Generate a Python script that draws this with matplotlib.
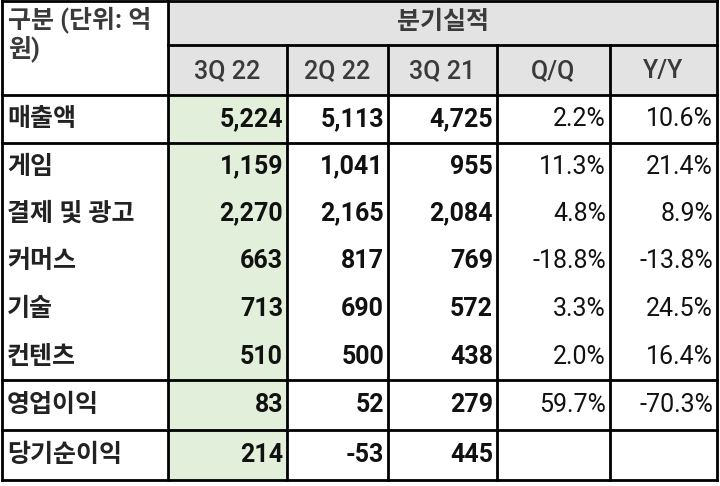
import matplotlib
matplotlib.use("Agg")
import matplotlib.pyplot as plt
from matplotlib.patches import Rectangle

plt.rcParams['font.family'] = ['Roboto', 'Noto Sans CJK KR', 'DejaVu Sans']

title = "분기실적"
corner = "구분 (단위: 억\n원)"
columns = ["3Q 22", "2Q 22", "3Q 21", "Q/Q", "Y/Y"]
rows = ["매출액", "게임", "결제 및 광고", "커머스", "기술", "컨텐츠", "영업이익", "당기순이익"]
q3_22 = ["5,224", "1,159", "2,270", "663", "713", "510", "83", "214"]
q2_22 = ["5,113", "1,041", "2,165", "817", "690", "500", "52", "-53"]
q3_21 = ["4,725", "955", "2,084", "769", "572", "438", "279", "445"]
qoq = ["2.2%", "11.3%", "4.8%", "-18.8%", "3.3%", "2.0%", "59.7%", ""]
yoy = ["10.6%", "21.4%", "8.9%", "-13.8%", "24.5%", "16.4%", "-70.3%", ""]

W, H = 720, 486
fig = plt.figure(figsize=(W/100, H/100), dpi=100)
ax = fig.add_axes([0, 0, 1, 1])
ax.set_xlim(0, W); ax.set_ylim(H, 0); ax.axis('off')

xs = [2, 168, 287, 388, 497, 610, 717]
row_y = [95, 143, 190, 237, 285, 333, 380, 430, 480]
hy = [1, 45, 95]

ax.add_patch(Rectangle((xs[1], hy[0]), xs[-1]-xs[1], hy[2]-hy[0], color='#e3e3e3', zorder=0))
ax.add_patch(Rectangle((xs[1], row_y[0]), xs[2]-xs[1], row_y[-1]-row_y[0], color='#e2efda', zorder=0))

lw = 2
k = 'black'
for i, x in enumerate(xs):
    top = hy[0] if i in (0, 1, len(xs)-1) else hy[1]
    ax.plot([x, x], [top, row_y[-1]], color=k, lw=lw)
ax.plot([xs[0], xs[-1]], [hy[0], hy[0]], color=k, lw=lw)
ax.plot([xs[1], xs[-1]], [hy[1], hy[1]], color=k, lw=lw)
for y in [95, 143, 380, 430, 480]:
    ax.plot([xs[0], xs[-1]], [y, y], color=k, lw=lw)

fs = 18
hdr = '#3a3a3a'
ax.text(8, 6, corner, fontsize=fs, fontweight='bold', color=hdr, va='top', ha='left', linespacing=1.1)
ax.text((xs[1]+xs[-1])/2, 22, title, fontsize=fs, fontweight='bold', color=hdr, ha='center', va='center')
for i, c in enumerate(columns):
    ax.text((xs[i+1]+xs[i+2])/2, 71, c, fontsize=fs, fontweight='medium', color=hdr, ha='center', va='center')

data = [q3_22, q2_22, q3_21, qoq, yoy]
for r, name in enumerate(rows):
    yc = (row_y[r] + row_y[r+1]) / 2
    ax.text(7, yc, name, fontsize=fs, fontweight='bold', color='#222222', ha='left', va='center')
    for c, col in enumerate(data):
        ax.text(xs[c+2]-4, yc, col[r], fontsize=fs, color='#111111',
                fontweight='bold' if c < 3 else 'normal', ha='right', va='center')

fig.savefig("out.png", dpi=100)
